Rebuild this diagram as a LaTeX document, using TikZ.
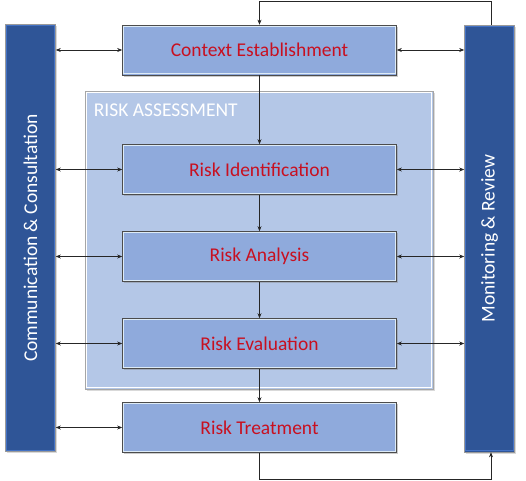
\documentclass[tikz,border=0pt]{standalone}
\usepackage{fontspec}
\setmainfont{Carlito}
\usetikzlibrary{arrows.meta,shadows}

\definecolor{barblue}{RGB}{47,85,151}
\definecolor{barrim}{RGB}{68,114,196}
\definecolor{stepfill}{RGB}{143,170,220}
\definecolor{steprim}{RGB}{221,235,247}
\definecolor{assessfill}{RGB}{180,199,231}
\definecolor{steptext}{RGB}{200,16,32}

\begin{document}
\begin{tikzpicture}[%
            x=1pt,
            y=-1pt,
            >={Stealth[length=5pt,width=4pt]},
            ]
    \tikzset{rim/.style = {path picture={\draw[#1, line width=1.2pt]
                ([shift={(1.2pt,-1.2pt)}]path picture bounding box.north west) rectangle
                ([shift={(-1.2pt,1.2pt)}]path picture bounding box.south east);}}}
    \tikzset{bar/.style = {draw=gray!80, line width=0.6pt, fill=barblue, rim=barrim,
                           minimum width=50pt, minimum height=427pt, inner sep=0pt, text=white,
                           font=\fontsize{19.5}{23}\selectfont,
                           drop shadow={opacity=0.3, shadow xshift=1.5pt, shadow yshift=-1.5pt}}}
    \tikzset{stepbox/.style = {draw=gray!60!black, line width=0.7pt, fill=stepfill, rim=steprim,
                               minimum width=274pt, minimum height=50pt, inner sep=0pt, text=steptext,
                               font=\fontsize{19.5}{23}\selectfont,
                               drop shadow={opacity=0.4, shadow xshift=1.5pt, shadow yshift=-1.5pt}}}
    \tikzset{assess/.style = {draw=gray!70, line width=0.6pt, fill=assessfill, rim=white,
                              minimum width=348pt, minimum height=298pt, inner sep=0pt,
                              drop shadow={opacity=0.3, shadow xshift=1.5pt, shadow yshift=-1.5pt}}}
    \tikzset{link/.style = {black!85, line width=0.6pt}}

    \useasboundingbox (0,0) rectangle (526,480);

    % Side bars
    \node[bar] (comm) at (30.5,238) {\rotatebox{90}{Communication \& Consultation}};
    \node[bar] (mon) at (489.5,238.5) {\rotatebox{90}{Monitoring \& Review}};

    % Risk assessment frame
    \node[assess] (assessbox) at (259,240) {};
    \node[anchor=north west, inner sep=0pt, text=white, font=\fontsize{19.5}{23}\selectfont]
        (assesslabel) at ([xshift=9pt, yshift=-13pt]assessbox.north west) {RISK ASSESSMENT};

    % Process steps
    \node[stepbox] (ctx) at (259.5,50) {Context Establishment};
    \node[stepbox] (ident) at (259.5,169.5) {Risk Identification};
    \node[stepbox] (analysis) at (259.5,256.5) {Risk Analysis};
    \node[stepbox] (eval) at (259.5,343.5) {Risk Evaluation};
    \node[stepbox] (treat) at (259.5,427.5) {Risk Treatment};

    % Flow
    \draw[link, ->] (ctx) -- (ident);
    \draw[link, ->] (ident) -- (analysis);
    \draw[link, ->] (analysis) -- (eval);
    \draw[link, ->] (eval) -- (treat);

    % Loop back
    \coordinate (looptop) at (491,1);
    \coordinate (loopbot) at (259.5,479);
    \draw[link, ->] ([xshift=1.5pt]mon.north) -- (looptop) -| (ctx.north);
    \draw[link, ->] (treat.south) -- (loopbot) -| ([xshift=1.5pt]mon.south);

    % Communication links
    \draw[link, <->] (comm.east |- ctx.west) -- (ctx.west);
    \draw[link, <->] (comm.east |- ident.west) -- (ident.west);
    \draw[link, <->] (comm.east |- analysis.west) -- (analysis.west);
    \draw[link, <->] (comm.east |- eval.west) -- (eval.west);
    \draw[link, <->] (comm.east |- treat.west) -- (treat.west);

    % Monitoring links
    \draw[link, <->] (ctx.east) -- (mon.west |- ctx.east);
    \draw[link, <->] (ident.east) -- (mon.west |- ident.east);
    \draw[link, <->] (analysis.east) -- (mon.west |- analysis.east);
    \draw[link, <->] (eval.east) -- (mon.west |- eval.east);

\end{tikzpicture}
\end{document}
